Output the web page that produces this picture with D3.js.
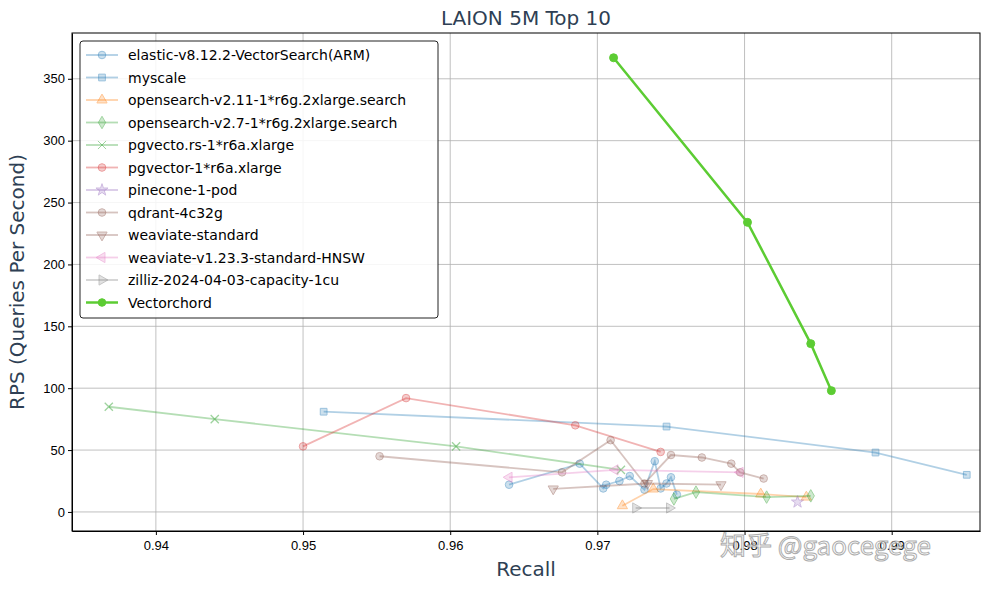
<!DOCTYPE html>
<html><head><meta charset="utf-8">
<script src="https://cdn.jsdelivr.net/npm/d3@7"></script>
<style>body{margin:0;background:#fff;font-family:"DejaVu Sans",sans-serif}</style>
</head><body><svg id="c" width="989" height="590"></svg>
<script>
const names = ["elastic-v8.12.2-VectorSearch(ARM)","myscale","opensearch-v2.11-1*r6g.2xlarge.search","opensearch-v2.7-1*r6g.2xlarge.search","pgvecto.rs-1*r6a.xlarge","pgvector-1*r6a.xlarge","pinecone-1-pod","qdrant-4c32g","weaviate-standard","weaviate-v1.23.3-standard-HNSW","zilliz-2024-04-03-capacity-1cu","Vectorchord"];
const colors = ["#1f77b4","#1f77b4","#ff7f0e","#2ca02c","#2ca02c","#d62728","#9467bd","#8c564b","#8c564b","#e377c2","#7f7f7f","#5ccc33"];
const symbols = ["circle","square","triangle","diamond","cross","pentagon","star","hexagon","tdown","tleft","tright","circle"];
const recall = [
  [0.964,0.9688,0.9704,0.9706,0.9715,0.9722,0.9732,0.9739,0.9743,0.9747,0.975,0.9754],
  [0.9514,0.9747,0.9889,0.9951],
  [0.9717,0.9738,0.9811,0.9842],
  [0.9752,0.9767,0.9815,0.9845],
  [0.9368,0.944,0.9604,0.9716],
  [0.95,0.957,0.9685,0.9743],
  [0.9836],
  [0.9552,0.9676,0.9709,0.9732,0.975,0.9771,0.9791,0.9797,0.9813],
  [0.967,0.9734,0.9784],
  [0.964,0.9712,0.9797],
  [0.9726,0.9749],
  [0.9711,0.9802,0.9845,0.9859]
];
const rps = [
  [22,39,19,22,25,29,18,41,19,23,28,14],
  [81,69,48,30],
  [5,18.5,14.5,12],
  [10.5,16,12,13],
  [85,75,53,34],
  [53,92,70,48.5],
  [8],
  [45,32,58,23,46,44,39,32,27],
  [18.6,23,22],
  [28,34,32],
  [3.2,3.2],
  [367,234,136,98]
];
const xTicks = [0.94,0.95,0.96,0.97,0.98,0.99];
const yTicks = [0,50,100,150,200,250,300,350];

const svg = d3.select("#c");
const m = {l:72,r:9,t:33,b:59};
const W = 989, H = 590;
const x = d3.scaleLinear().domain([0.9343,0.9960]).range([m.l, W-m.r]);
const y = d3.scaleLinear().domain([-15.4,387]).range([H-m.b, m.t]);

svg.append("text").attr("x",(m.l+W-m.r)/2).attr("y",25).attr("text-anchor","middle")
  .style("font-size","20px").style("fill","#2e3f54").text("LAION 5M Top 10");

const g = svg.append("g");
g.selectAll(".gx").data(xTicks).join("line").attr("x1",d=>x(d)).attr("x2",d=>x(d))
  .attr("y1",m.t).attr("y2",H-m.b).attr("stroke","#b0b0b0").attr("stroke-width",0.8);
g.selectAll(".gy").data(yTicks).join("line").attr("y1",d=>y(d)).attr("y2",d=>y(d))
  .attr("x1",m.l).attr("x2",W-m.r).attr("stroke","#b0b0b0").attr("stroke-width",0.8);

svg.append("g").attr("transform",`translate(0,${H-m.b})`)
  .call(d3.axisBottom(x).tickValues(xTicks).tickFormat(d3.format(".2f")).tickSize(4).tickSizeOuter(0))
  .call(a=>a.selectAll("text").style("font-size","13px").attr("dy","0.9em"));
svg.append("g").attr("transform",`translate(${m.l},0)`)
  .call(d3.axisLeft(y).tickValues(yTicks).tickSize(4).tickSizeOuter(0))
  .call(a=>a.selectAll("text").style("font-size","13px"));
svg.append("rect").attr("x",m.l).attr("y",m.t).attr("width",W-m.r-m.l).attr("height",H-m.t-m.b)
  .attr("fill","none").attr("stroke","#000");

svg.append("text").attr("x",(m.l+W-m.r)/2).attr("y",576).attr("text-anchor","middle")
  .style("font-size","20px").style("fill","#2e3f54").text("Recall");
svg.append("text").attr("transform",`translate(24,${(m.t+H-m.b)/2}) rotate(-90)`).attr("text-anchor","middle")
  .style("font-size","20px").style("fill","#2e3f54").text("RPS (Queries Per Second)");

function sym(t,s){
  const map = {circle:d3.symbolCircle,square:d3.symbolSquare,triangle:d3.symbolTriangle,diamond:d3.symbolDiamond,
    cross:d3.symbolX,pentagon:d3.symbolCircle,star:d3.symbolStar,hexagon:d3.symbolCircle,
    tdown:d3.symbolTriangle,tleft:d3.symbolTriangle,tright:d3.symbolTriangle};
  const rot = {tdown:180,tleft:-90,tright:90}[t]||0;
  return {d:d3.symbol(map[t],s)(),rot};
}

const plot = svg.append("g");
names.forEach((n,i)=>{
  const pts = recall[i].map((r,j)=>[r,rps[i][j]]);
  const last = i===11;
  plot.append("path").datum(pts).attr("fill","none").attr("stroke",colors[i])
    .attr("stroke-width",last?2.5:1.8).attr("opacity",last?1:0.35)
    .attr("d",d3.line().x(d=>x(d[0])).y(d=>y(d[1])));
  const s = sym(symbols[i], last?50:45);
  plot.selectAll(null).data(pts).join("path").attr("d",s.d)
    .attr("transform",d=>`translate(${x(d[0])},${y(d[1])}) rotate(${s.rot})`)
    .attr("fill",colors[i]).attr("stroke",colors[i]).attr("fill-opacity",last?1:0.5)
    .attr("opacity",last?1:0.45).attr("stroke-width",symbols[i]==="cross"?1.3:1);
});

const lg = svg.append("g").attr("transform","translate(80,41)");
lg.append("rect").attr("width",358).attr("height",277).attr("rx",3)
  .attr("fill","#fff").attr("fill-opacity",0.85).attr("stroke","#222");
names.forEach((n,i)=>{
  const yy = 14+i*22.5;
  const last=i===11;
  lg.append("line").attr("x1",6).attr("x2",38).attr("y1",yy).attr("y2",yy)
    .attr("stroke",colors[i]).attr("stroke-width",last?2.5:1.8).attr("opacity",last?1:0.35);
  const s = sym(symbols[i],45);
  lg.append("path").attr("d",s.d).attr("transform",`translate(22,${yy}) rotate(${s.rot})`)
    .attr("fill",colors[i]).attr("stroke",colors[i]).attr("fill-opacity",last?1:0.5).attr("opacity",last?1:0.45);
  lg.append("text").attr("x",48).attr("y",yy+5).style("font-size","14px").text(n);
});

svg.append("text").attr("x",720).attr("y",555).style("font-size","26px")
  .style("fill","#fff").attr("stroke","#999").attr("stroke-width",1).attr("opacity",0.8)
  .style("font-family","'Noto Sans CJK SC',sans-serif").text("知乎 @gaocegege");
</script></body></html>
